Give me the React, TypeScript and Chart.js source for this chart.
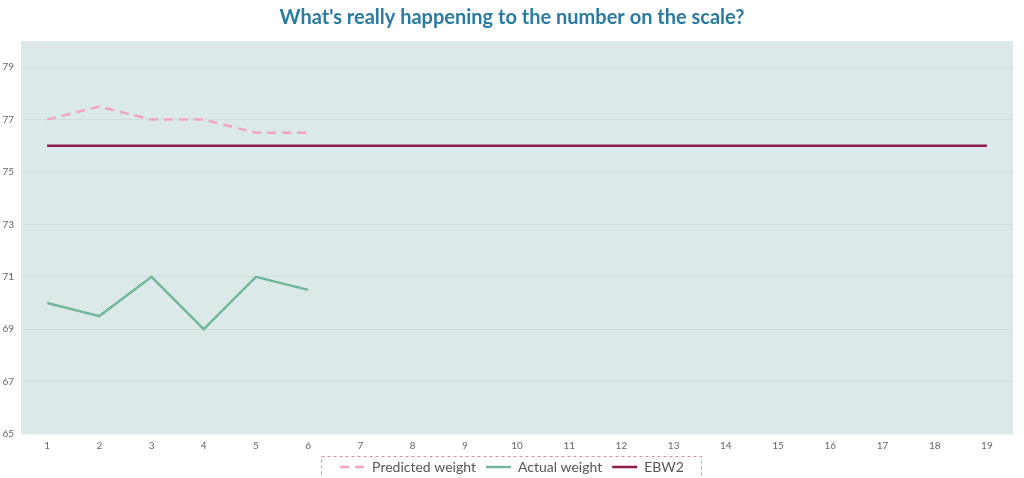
import React, { useEffect, useRef } from "react";
import { Chart, registerables } from "chart.js";

Chart.register(...registerables);

const weeks = ["1", "2", "3", "4", "5", "6", "7", "8", "9", "10", "11", "12", "13", "14", "15", "16", "17", "18", "19"];
const predictedWeight = [77, 77.5, 77, 77, 76.5, 76.5];
const actualWeight = [70, 69.5, 71, 69, 71, 70.5];
const ebw2 = [76, 76, 76, 76, 76, 76, 76, 76, 76, 76, 76, 76, 76, 76, 76, 76, 76, 76, 76];
const yTicks = [65, 67, 69, 71, 73, 75, 77, 79];

const FONT = "Lato, 'Open Sans', sans-serif";

// Tinted plot background behind the lines
const plotBackground = {
  id: "plotBackground",
  beforeDraw(chart: any) {
    const { ctx, chartArea } = chart;
    ctx.save();
    ctx.fillStyle = "#dbeae8";
    ctx.fillRect(chartArea.left, chartArea.top, chartArea.right - chartArea.left, chartArea.bottom - chartArea.top);
    ctx.restore();
  },
};

// Dashed frame around the legend entries
const legendFrame = {
  id: "legendFrame",
  afterDraw(chart: any) {
    const boxes = chart.legend?.legendHitBoxes;
    if (!boxes || !boxes.length) return;
    const left = Math.min(...boxes.map((b: any) => b.left));
    const right = Math.max(...boxes.map((b: any) => b.left + b.width));
    const top = Math.min(...boxes.map((b: any) => b.top));
    const { ctx } = chart;
    ctx.save();
    ctx.strokeStyle = "#e08aa8";
    ctx.lineWidth = 1;
    ctx.setLineDash([3, 3]);
    ctx.strokeRect(Math.round(left - 19) + 0.5, Math.round(top - 4) + 0.5, Math.round(right - left + 36), 40);
    ctx.restore();
  },
};

export default function App() {
  const canvasRef = useRef<HTMLCanvasElement | null>(null);

  useEffect(() => {
    if (!canvasRef.current) return;
    const defaultLabels = Chart.defaults.plugins.legend.labels.generateLabels;
    const chart = new Chart(canvasRef.current, {
      type: "line",
      data: {
        labels: weeks,
        datasets: [
          {
            label: "Predicted weight",
            data: predictedWeight,
            borderColor: "#f2a2c2",
            backgroundColor: "#f2a2c2",
            borderWidth: 2.5,
            borderDash: [9, 6],
            pointRadius: 0,
            tension: 0,
          },
          {
            label: "Actual weight",
            data: actualWeight,
            borderColor: "#72b79a",
            backgroundColor: "#72b79a",
            borderWidth: 2.5,
            pointRadius: 0,
            tension: 0,
          },
          {
            label: "EBW2",
            data: ebw2,
            borderColor: "#8c1a4c",
            backgroundColor: "#8c1a4c",
            borderWidth: 2.5,
            pointRadius: 0,
            tension: 0,
          },
        ],
      },
      options: {
        animation: false,
        responsive: false,
        maintainAspectRatio: false,
        layout: { padding: { left: 0, right: 0, top: 0, bottom: -6 } },
        plugins: {
          title: {
            display: true,
            text: "What's really happening to the number on the scale?",
            color: "#2a7ba2",
            font: { family: FONT, size: 20, weight: "bold" },
            padding: { top: 6, bottom: 11 },
          },
          legend: {
            position: "bottom",
            labels: {
              usePointStyle: true,
              pointStyle: "line",
              pointStyleWidth: 25,
              padding: 10,
              color: "#555555",
              font: { family: FONT, size: 14 },
              // line-style markers keep each dataset's dash pattern and width
              generateLabels(c: any) {
                return defaultLabels(c).map((item: any) => {
                  const ds = c.data.datasets[item.datasetIndex];
                  return {
                    ...item,
                    strokeStyle: ds.borderColor,
                    lineWidth: 2.5,
                    lineDash: ds.borderDash || [],
                  };
                });
              },
            },
          },
          tooltip: { enabled: false },
        },
        scales: {
          x: {
            offset: true,
            grid: { display: false, drawTicks: false },
            border: { display: false },
            ticks: { color: "#666666", font: { family: FONT, size: 10 }, padding: 6, maxRotation: 0, autoSkip: false },
            afterFit(scale: any) {
              scale.height = 16;
            },
          },
          y: {
            min: 65,
            max: 80,
            grid: { color: "rgba(0,0,0,0.05)", drawTicks: false },
            border: { display: false },
            ticks: { color: "#666666", font: { family: FONT, size: 10 }, padding: 7 },
            afterBuildTicks(scale: any) {
              scale.ticks = yTicks.map((v) => ({ value: v }));
            },
            afterFit(scale: any) {
              scale.width = 21;
            },
          },
          // empty right-hand margin so the title and legend stay centred on the page
          gutter: {
            type: "linear",
            position: "right",
            grid: { display: false, drawTicks: false },
            border: { display: false },
            ticks: { display: false },
            afterFit(scale: any) {
              scale.width = 11;
            },
          },
        },
      },
      plugins: [plotBackground, legendFrame],
    });
    return () => chart.destroy();
  }, []);

  return (
    <div style={{ position: "fixed", left: 0, top: 0, width: 1024, height: 478, background: "#ffffff" }}>
      <canvas ref={canvasRef} width={1024} height={478} />
    </div>
  );
}
